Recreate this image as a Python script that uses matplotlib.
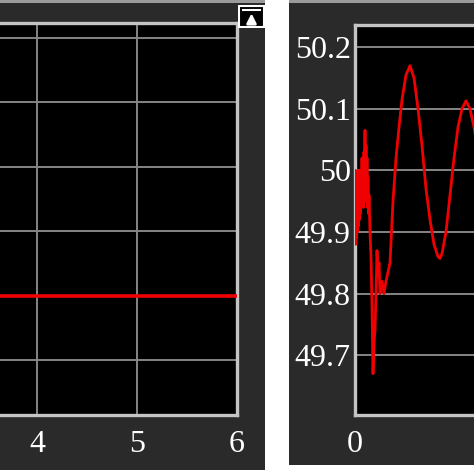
import numpy as np
import matplotlib
matplotlib.use('Agg')
from matplotlib import pyplot as plt
from matplotlib.patches import Rectangle

# ---- data ----
# left scope: flat trace (y labels are cut off in the crop, grid rows 0..5)
left_time = [0.0, 6.0]
left_value = [1.0, 1.0]
left_xticks = [4, 5, 6]
left_yticks = [0, 1, 2, 3, 4, 5]

# right scope: frequency (Hz) after the disturbance
right_time = [0.000, 0.005, 0.010, 0.015, 0.020, 0.025, 0.030, 0.035, 0.040, 0.045,
              0.050, 0.055, 0.060, 0.065, 0.070, 0.075, 0.080, 0.085, 0.090, 0.095,
              0.100, 0.105, 0.110, 0.115, 0.120, 0.125, 0.130, 0.135, 0.140, 0.150,
              0.160, 0.170, 0.180, 0.190,
              0.20, 0.21, 0.22, 0.23, 0.24, 0.25, 0.27, 0.29, 0.31, 0.35,
              0.38, 0.41, 0.44, 0.47, 0.51, 0.55, 0.59, 0.63, 0.67, 0.71,
              0.75, 0.79, 0.83, 0.85, 0.87, 0.91, 0.95, 0.99, 1.03, 1.07, 1.11,
              1.15, 1.19, 1.23]
right_freq = [50.00, 49.88, 49.99, 49.89, 49.97, 49.90, 50.00, 49.91, 49.98, 49.92,
              50.00, 49.93, 49.99, 49.94, 50.02, 49.95, 50.00, 49.94, 50.03, 49.96,
              50.065, 49.95, 50.04, 49.96, 50.02, 49.94, 49.99, 49.93, 49.96, 49.90,
              49.86, 49.78, 49.67, 49.72,
              49.74, 49.80, 49.87, 49.83, 49.85, 49.80, 49.82, 49.80, 49.82, 49.85,
              49.95, 50.02, 50.07, 50.115, 50.155, 50.17, 50.15, 50.10, 50.04, 49.97,
              49.92, 49.88, 49.86, 49.857, 49.865, 49.90, 49.96, 50.02, 50.07, 50.10, 50.113,
              50.10, 50.07, 50.03]
right_xticks = [0]
right_yticks = [49.7, 49.8, 49.9, 50.0, 50.1, 50.2]
right_ylabels = ['49.7', '49.8', '49.9', '50', '50.1', '50.2']

W = H = 474.0
panel_gray = '#2a2a2a'
frame_gray = '#c4c4c4'
grid_gray = '#858585'
trace_red = '#f00000'
plt.rcParams['font.family'] = ['Liberation Serif', 'DejaVu Serif']

fig = plt.figure(figsize=(4.74, 4.74), dpi=100, facecolor='white')

def px_rect(x0, y0, x1, y1):
    # pixel box (top-left origin) -> figure fraction [l, b, w, h]
    return [x0 / W, 1 - y1 / H, (x1 - x0) / W, (y1 - y0) / H]

#~ panel backgrounds (drawn under the axes)
for (x0, y0, x1, y1) in [(0, 0, 265, 470), (289, 0, 474, 465)]:
    l, b, w, h = px_rect(x0, y0, x1, y1)
    fig.patches.append(Rectangle((l, b), w, h, transform=fig.transFigure,
                                 facecolor=panel_gray, edgecolor='none', zorder=-2))
    l, b, w, h = px_rect(x0, y0, x1, 3)
    fig.patches.append(Rectangle((l, b), w, h, transform=fig.transFigure,
                                 facecolor='#9a9a9a', edgecolor='none', zorder=-1))

def scope_axes(rect, xlim, ylim):
    ax = fig.add_axes(rect)
    ax.set_facecolor('black')
    ax.set_xlim(*xlim)
    ax.set_ylim(*ylim)
    for s in ax.spines.values():
        s.set_color(frame_gray)
        s.set_linewidth(2.4)
    ax.grid(True, color=grid_gray, linewidth=1.4)
    ax.tick_params(length=0, colors='white', labelsize=23)
    return ax

#~ left scope (x=4 at 37px, x=6 at 237px)
ax1 = scope_axes(px_rect(237 - 600, 23, 237, 415), (0, 6), (-0.85, 5.23))
ax1.plot(left_time, left_value, color=trace_red, linewidth=2.6, zorder=3)
ax1.set_xticks(left_xticks)
ax1.set_yticks(left_yticks)
ax1.set_yticklabels([])
ax1.tick_params(axis='x', pad=11)

#~ right scope
ax2 = scope_axes(px_rect(355, 25, 955, 415), (0, 6), (49.603, 50.236))
ax2.plot(right_time, right_freq, color=trace_red, linewidth=2.0, zorder=3)
ax2.set_xticks(right_xticks)
ax2.set_yticks(right_yticks)
ax2.set_yticklabels(right_ylabels)
ax2.tick_params(axis='x', pad=11)
ax2.tick_params(axis='y', pad=3)

#~ little dock/undock button at top right of left scope
ib = fig.add_axes(px_rect(238, 5, 265, 28))
ib.set_xlim(0, 1)
ib.set_ylim(0, 1)
ib.axis('off')
ib.add_patch(Rectangle((0.04, 0.04), 0.92, 0.92, facecolor='black', edgecolor='white', linewidth=1.5))
ib.plot([0.2, 0.8], [0.8, 0.8], color='white', linewidth=1.5)
ib.annotate('', xy=(0.5, 0.76), xytext=(0.5, 0.15),
            arrowprops=dict(arrowstyle='-|>', color='white', lw=2.0, mutation_scale=14))

plt.savefig('out.png', dpi=100, facecolor='white')
plt.close()
